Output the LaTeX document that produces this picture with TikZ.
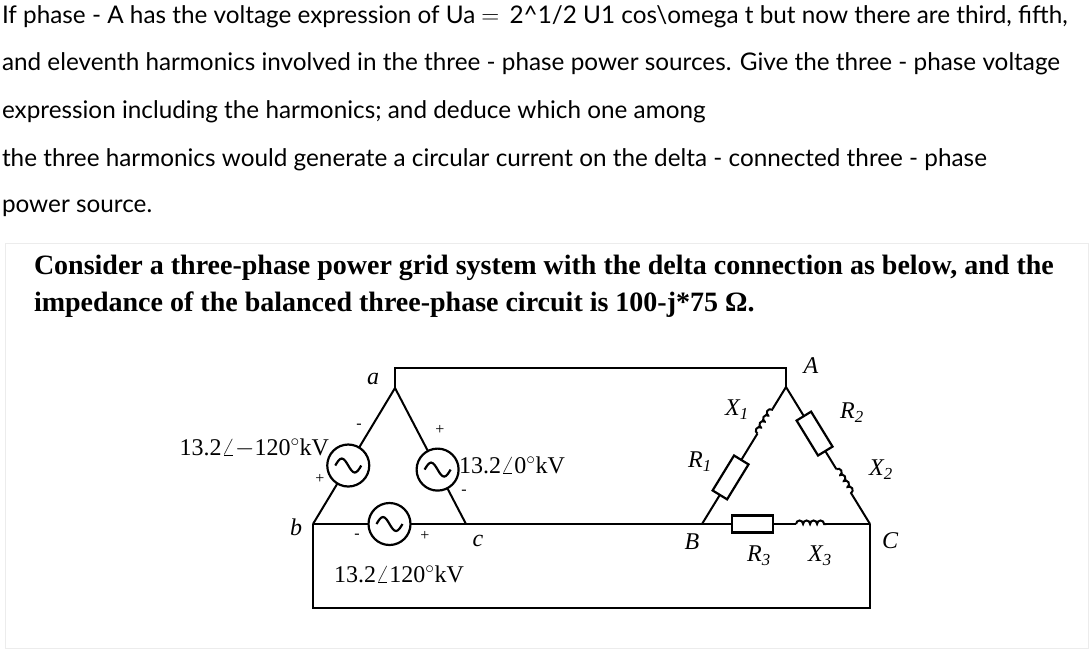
\documentclass[tikz,border=0pt]{standalone}
\usepackage{fontspec}
\setmainfont{Liberation Serif}
\newfontfamily\latofont{Lato}
\usetikzlibrary{calc,decorations}
\pgfdeclaredecoration{bumps}{initial}{
 \state{initial}[width=7pt]{\pgfpathlineto{\pgfpointorigin}\pgfpatharc{180}{0}{3.5pt}}
 \state{final}{\pgfpathlineto{\pgfpointdecoratedpathlast}}
}
\begin{document}
\begin{tikzpicture}[x=1pt,y=-1pt,line width=2pt,
  res/.style={draw,fill=white,rectangle,minimum width=41pt,minimum height=17pt,inner sep=0pt,sloped,line width=2.2pt},
  src/.style={draw,fill=white,circle,minimum size=42pt,inner sep=0pt,line width=2.2pt},
  coil/.style={decorate,decoration={bumps},line width=2pt},
  tilde/.style={line width=2.2pt},
  lbl/.style={font=\fontsize{24}{26}\selectfont\itshape,inner sep=0pt},
  vlbl/.style={font=\fontsize{24}{26}\selectfont,inner sep=0pt},
  pm/.style={font=\fontsize{16}{16}\selectfont,inner sep=0pt},
  qtext/.style={font=\latofont\fontsize{24.3}{26}\selectfont,anchor=west,inner sep=0pt}]
\useasboundingbox (0,0) rectangle (1091,650);
% top question text
\node[qtext] (q1) at (1,17) {If phase - A has the voltage expression of Ua $=$ \,2\^{}1/2 U1 cos\textbackslash omega t but now there are third, fifth,};
\node[qtext] (q2) at (1,64) {and eleventh harmonics involved in the three - phase power sources. Give the three - phase voltage};
\node[qtext] (q3) at (1,112) {expression including the harmonics; and deduce which one among};
\node[qtext] (q4) at (1,160) {the three harmonics would generate a circular current on the delta - connected three - phase};
\node[qtext] (q5) at (1,208) {power source.};
% box
\draw[gray!15,line width=1pt] (5,243) rectangle (1088,648);
\node[font=\fontsize{28}{30}\selectfont\bfseries,anchor=west,inner sep=0pt] (t1) at (33,268) {Consider a three-phase power grid system with the delta connection as below, and the};
\node[font=\fontsize{28}{30}\selectfont\bfseries,anchor=west,inner sep=0pt] (t2) at (33,305) {impedance of the balanced three-phase circuit is 100-j*75 Ω.};
% vertices
\coordinate (a) at (395,388);
\coordinate (b) at (313,524);
\coordinate (c) at (466,524);
\coordinate (A) at (786,387);
\coordinate (B) at (702,524);
\coordinate (C) at (870,524);
\coordinate (atop) at (395,368);
\coordinate (Atop) at (786,368);
\coordinate (Cbot) at (870,608);
\coordinate (bbot) at (313,608);
% wires
\draw (a) -- (atop) -- (Atop) -- (A);
\draw (b) -- (B);
\draw (C) -- (Cbot) -- (bbot) -- (b);
% source delta
\draw (b) -- node[src,pos=0.43] (s1) {} (a);
\draw (a) -- node[src,pos=0.6] (s2) {} (c);
\draw (b) -- node[src,pos=0.5] (s3) {} (c);
\foreach \s in {s1,s2,s3}
  \draw[tilde] (\s.center) ++(-13,0) sin ++(6.5,-7) cos ++(6.5,7) sin ++(6.5,7) cos ++(6.5,-7);
% load delta
\draw (B) -- ($(B)!0.66!(A)$) coordinate (x1s);
\draw[coil] (x1s) -- ($(B)!0.84!(A)$) coordinate (x1e);
\draw (x1e) -- (A);
\path (B) -- node[res,pos=0.34] (r1) {} (A);
\draw (A) -- ($(A)!0.6!(C)$) coordinate (x2s);
\draw[coil] (x2s) -- ($(A)!0.79!(C)$) coordinate (x2e);
\draw (x2e) -- (C);
\path (A) -- node[res,pos=0.34] (r2) {} (C);
\draw (B) -- ($(B)!0.56!(C)$) coordinate (x3s);
\draw[coil] (x3s) -- ($(B)!0.74!(C)$) coordinate (x3e);
\draw (x3e) -- (C);
\path (B) -- node[res,pos=0.3] (r3) {} (C);
% labels
\node[lbl] (la) at (373,379) {a};
\node[lbl] (lb) at (296,527) {b};
\node[lbl] (lc) at (478,541) {c};
\node[lbl] (lA) at (811,366) {A};
\node[lbl] (lB) at (692,542) {B};
\node[lbl] (lC) at (890,541) {C};
\node[lbl] (lX1) at (737,410) {X$_{\mathit 1}$};
\node[lbl] (lR1) at (700,462) {R$_{\mathit 1}$};
\node[lbl] (lR2) at (852,413) {R$_{\mathit 2}$};
\node[lbl] (lX2) at (881,470) {X$_{\mathit 2}$};
\node[lbl] (lR3) at (759,556) {R$_{\mathit 3}$};
\node[lbl] (lX3) at (820,556) {X$_{\mathit 3}$};
\node[vlbl,anchor=east] (v1) at (330,448) {13.2$\angle$$-$120$^\circ$kV};
\node[vlbl,anchor=west] (v2) at (458,465) {13.2$\angle$0$^\circ$kV};
\node[pm] (p4) at (464,492) {-};
\node[vlbl] (v3) at (399,574) {13.2$\angle$120$^\circ$kV};
\node[pm] (p1) at (359,426) {-};
\node[pm] (p2) at (320,479) {+};
\node[pm] (p3) at (440,430) {+};
\node[pm] (p5) at (357,536) {-};
\node[pm] (p6) at (425,536) {+};
\end{tikzpicture}
\end{document}
